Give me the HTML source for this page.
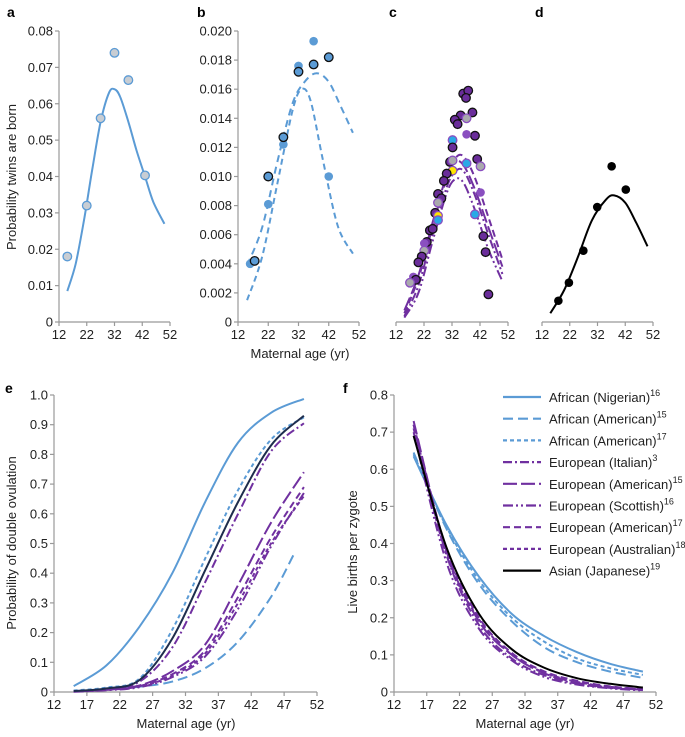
<!DOCTYPE html>
<html><head><meta charset="utf-8">
<style>
html,body{margin:0;padding:0;background:#fff;}
svg{display:block;font-family:"Liberation Sans",sans-serif;}
.tk{font-size:13px;fill:#222;}
.pl{font-size:14px;font-weight:bold;fill:#000;}
.at{font-size:13px;fill:#222;}
</style></head>
<body>
<svg id="chart" width="685" height="737" viewBox="0 0 685 737">
<text class="pl" x="7" y="17">a</text>
<text class="pl" x="197" y="17">b</text>
<text class="pl" x="389" y="17">c</text>
<text class="pl" x="535" y="17">d</text>
<text class="pl" x="5" y="393">e</text>
<text class="pl" x="343" y="393">f</text>
<text class="at" x="300" y="358" text-anchor="middle">Maternal age (yr)</text>
<text class="at" x="186" y="728" text-anchor="middle">Maternal age (yr)</text>
<text class="at" x="525" y="728" text-anchor="middle">Maternal age (yr)</text>
<text class="at" transform="translate(16,177) rotate(-90)" text-anchor="middle">Probability twins are born</text>
<text class="at" transform="translate(16,543) rotate(-90)" text-anchor="middle">Probability of double ovulation</text>
<text class="at" transform="translate(357,552) rotate(-90)" text-anchor="middle">Live births per zygote</text>
</svg>
<script>
// ---------- data ----------
const topXTicks=[12,22,32,42,52];
const bottomXTicks=[12,17,22,27,32,37,42,47,52];
const aYTicks=[0,0.01,0.02,0.03,0.04,0.05,0.06,0.07,0.08];
const aYLabels=["0","0.01","0.02","0.03","0.04","0.05","0.06","0.07","0.08"];
const bYTicks=[0,0.002,0.004,0.006,0.008,0.010,0.012,0.014,0.016,0.018,0.020];
const bYLabels=["0","0.002","0.004","0.006","0.008","0.010","0.012","0.014","0.016","0.018","0.020"];
const eYTicks=[0,0.1,0.2,0.3,0.4,0.5,0.6,0.7,0.8,0.9,1.0];
const eYLabels=["0","0.1","0.2","0.3","0.4","0.5","0.6","0.7","0.8","0.9","1.0"];
const fYTicks=[0,0.1,0.2,0.3,0.4,0.5,0.6,0.7,0.8];
const fYLabels=["0","0.1","0.2","0.3","0.4","0.5","0.6","0.7","0.8"];

const aPointAges=[15,22,27,32,37,43];
const aPointVals=[0.018,0.032,0.056,0.074,0.0665,0.0403];
const aCurveAges=[15,18,21,24,27,30,32,34,37,40,43,46,50];
const aCurveVals=[0.0085,0.016,0.028,0.042,0.055,0.063,0.064,0.062,0.055,0.047,0.040,0.033,0.027];

const bFilledAges=[16,22,27,32,37,42];
const bFilledVals=[0.0040,0.0081,0.0122,0.0176,0.0193,0.0100];
const bOutlinedAges=[17.5,22,27,32,37,42];
const bOutlinedVals=[0.0042,0.0100,0.0127,0.0172,0.0177,0.0182];
const bCurve1Ages=[15,20,25,30,33,36,40,45,50];
const bCurve1Vals=[0.0015,0.0045,0.0095,0.0145,0.0160,0.0152,0.0112,0.0066,0.0047];
const bCurve2Ages=[15,20,25,30,34,38,42,46,50];
const bCurve2Vals=[0.0039,0.0065,0.0110,0.0150,0.0165,0.0171,0.0165,0.0148,0.0130];

const cPointAges=[36.0,37.8,37.0,39.3,35.1,33.0,34.0,40.2,37.2,32.2,32.2,37.2,41.0,42.2,37.2,31.3,32.2,32.2,30.1,29.1,42.2,27.0,28.2,27.0,26.0,27.0,27.0,40.2,24.1,25.1,43.2,23.0,22.1,22.1,44.0,21.2,20.0,18.2,19.1,17.0,45.0];
const cPointVals=[0.0157,0.0159,0.0154,0.0144,0.0142,0.0139,0.0136,0.0128,0.0129,0.0125,0.0120,0.0140,0.0112,0.0107,0.0109,0.0110,0.0111,0.0104,0.0102,0.0097,0.0089,0.0088,0.0085,0.0082,0.0075,0.0073,0.0070,0.0074,0.0063,0.0064,0.0059,0.0055,0.0054,0.0049,0.0048,0.0045,0.0041,0.0031,0.0029,0.0027,0.0019];
const cPointKinds=["d","d","d","d","d","d","d","d","l","b","d","g","d","g","b","d","g","y","d","d","l","d","d","g","d","y","b","b","d","d","d","d","l","g","d","d","d","l","d","g","d"];
const cCurveAges=[15,20,25,30,33,36,40,45,50];
const cCurve1Vals=[0.0006,0.0030,0.0065,0.0098,0.0112,0.0114,0.0100,0.0072,0.0043];
const cCurve2Vals=[0.0004,0.0025,0.0060,0.0092,0.0103,0.0104,0.0088,0.0060,0.0033];
const cCurve3Vals=[0.0003,0.0020,0.0055,0.0088,0.0098,0.0096,0.0078,0.0050,0.0028];
const cCurve4Vals=[0.0008,0.0032,0.0068,0.0100,0.0110,0.0108,0.0092,0.0065,0.0038];

const dPointAges=[17.9,21.7,26.9,31.9,37.1,42.2];
const dPointVals=[0.00146,0.0027,0.0049,0.0079,0.0107,0.0091];
const dCurveAges=[15,20,25,30,35,38,42,46,50];
const dCurveVals=[0.0006,0.0022,0.0045,0.0070,0.0084,0.0087,0.0082,0.0068,0.0052];

const seriesNames=["African (Nigerian)","African (American)","African (American)","European (Italian)","European (American)","European (Scottish)","European (American)","European (Australian)","Asian (Japanese)"];
const seriesRefs=["16","15","17","3","15","16","17","18","19"];
const ages=[15,20,25,30,35,40,45,50];
const eAfrAm15Ages=[15,20,25,30,35,40,45,48.4];
const eVals=[
 [0.02,0.09,0.22,0.40,0.64,0.84,0.94,0.987],
 [0.003,0.008,0.018,0.035,0.08,0.17,0.32,0.46],
 [0.005,0.015,0.045,0.21,0.45,0.68,0.85,0.925],
 [0.002,0.01,0.035,0.15,0.37,0.60,0.81,0.905],
 [0.002,0.008,0.022,0.07,0.16,0.36,0.57,0.74],
 [0.001,0.006,0.016,0.05,0.12,0.28,0.49,0.67],
 [0.002,0.007,0.02,0.06,0.14,0.32,0.52,0.69],
 [0.002,0.007,0.019,0.055,0.13,0.30,0.50,0.66],
 [0.003,0.012,0.04,0.18,0.41,0.64,0.83,0.93]];
const fVals=[
 [0.635,0.45,0.31,0.21,0.15,0.107,0.076,0.055],
 [0.645,0.44,0.29,0.19,0.12,0.08,0.055,0.038],
 [0.64,0.445,0.30,0.20,0.135,0.09,0.064,0.046],
 [0.72,0.37,0.18,0.09,0.045,0.022,0.011,0.005],
 [0.73,0.38,0.19,0.10,0.05,0.025,0.012,0.006],
 [0.70,0.35,0.17,0.085,0.04,0.02,0.01,0.004],
 [0.72,0.385,0.20,0.105,0.055,0.03,0.015,0.008],
 [0.71,0.37,0.195,0.10,0.052,0.027,0.014,0.007],
 [0.69,0.39,0.21,0.115,0.065,0.037,0.022,0.012]];

// ---------- styles ----------
const BLUE="#5b9bd5", PURPLE="#7030a0";
const sColor=[BLUE,BLUE,BLUE,PURPLE,PURPLE,PURPLE,PURPLE,PURPLE,"#000"];
const sDash=["","10,5","4,3","9,3,2,3","14,4","10,3,2,3,2,3","7,4","4,3",""];

const NS="http://www.w3.org/2000/svg";
const svg=document.getElementById('chart');
function mk(tag,attrs,parent){const e=document.createElementNS(NS,tag);for(const k in attrs)e.setAttribute(k,attrs[k]);(parent||svg).appendChild(e);return e;}
function lin(d0,d1,r0,r1){return v=>r0+(v-d0)*(r1-r0)/(d1-d0);}
function smooth(xs,ys){
  let d="M"+xs[0].toFixed(1)+","+ys[0].toFixed(1);
  for(let i=0;i<xs.length-1;i++){
    const x0=xs[Math.max(0,i-1)],y0=ys[Math.max(0,i-1)],x1=xs[i],y1=ys[i],x2=xs[i+1],y2=ys[i+1],x3=xs[Math.min(xs.length-1,i+2)],y3=ys[Math.min(xs.length-1,i+2)];
    d+=" C"+(x1+(x2-x0)/6).toFixed(1)+","+(y1+(y2-y0)/6).toFixed(1)+" "+(x2-(x3-x1)/6).toFixed(1)+","+(y2-(y3-y1)/6).toFixed(1)+" "+x2.toFixed(1)+","+y2.toFixed(1);
  }
  return d;
}
function axes(px,sx,sy,xt,yt,yl,xy0,showY,pname){
  const g=mk('g',{});
  
  
  const x0=sx(xt[0]),x1=sx(xt[xt.length-1]);
  const xl=mk('line',{x1:x0,x2:x1,y1:xy0,y2:xy0,stroke:'#999','stroke-width':1.2},g);
  
  
  xt.forEach(t=>{
    mk('line',{x1:sx(t),x2:sx(t),y1:xy0,y2:xy0+4,stroke:'#999','stroke-width':1.2},g);
    const tx=mk('text',{x:sx(t),y:xy0+17,'text-anchor':'middle','class':'tk'},g);
    tx.textContent=t;
    
    
  });
  if(showY){
    const yl0=mk('line',{x1:x0,x2:x0,y1:sy(yt[0]),y2:sy(yt[yt.length-1]),stroke:'#999','stroke-width':1.2},g);
    
    
    yt.forEach((t,i)=>{
      mk('line',{x1:x0-4,x2:x0,y1:sy(t),y2:sy(t),stroke:'#999','stroke-width':1.2},g);
      const tx=mk('text',{x:x0-6,y:sy(t)+4.5,'text-anchor':'end','class':'tk'},g);
      tx.textContent=yl[i];
      
      
    });
  }
}
function curve(sx,sy,xs,vs,color,dash,w,name){
  const p=mk('path',{d:smooth(xs.map(sx),vs.map(sy)),fill:'none',stroke:color,'stroke-width':w||2,'stroke-dasharray':dash||'none','stroke-linecap':'butt'});
  
  
  return p;
}
function dot(x,y,fill,stroke,name){
  const c=mk('circle',{cx:x,cy:y,r:4.3,fill:fill,stroke:stroke||'none','stroke-width':stroke?1.3:0});
  
  
}

// ---------- panel a ----------
const ax=lin(12,52,59,170), ay=lin(0,0.08,322,31);
axes('a',ax,ay,topXTicks,aYTicks,aYLabels,322,true,'panel-a');
curve(ax,ay,aCurveAges,aCurveVals,BLUE,'',2,'a-fit-curve');
aPointAges.forEach((a,i)=>dot(ax(a),ay(aPointVals[i]),'#c8cdd3',BLUE,'a-data-point'));

// ---------- panel b ----------
const bx=lin(12,52,238,359), by=lin(0,0.020,322,31);
axes('b',bx,by,topXTicks,bYTicks,bYLabels,322,true,'panel-b');
curve(bx,by,bCurve1Ages,bCurve1Vals,BLUE,'6,4',2,'b-fit-curve-1');
curve(bx,by,bCurve2Ages,bCurve2Vals,BLUE,'7,5',2,'b-fit-curve-2');
bFilledAges.forEach((a,i)=>dot(bx(a),by(bFilledVals[i]),BLUE,null,'b-filled-point'));
bOutlinedAges.forEach((a,i)=>dot(bx(a),by(bOutlinedVals[i]),BLUE,'#111','b-outlined-point'));

// ---------- panel c ----------
const cx=lin(12,52,396,508), cy=lin(0,0.020,322,31);
axes('c',cx,cy,topXTicks,[],[],322,false,'panel-c');
curve(cx,cy,cCurveAges,cCurve1Vals,PURPLE,'7,4',2,'c-fit-curve-1');
curve(cx,cy,cCurveAges,cCurve2Vals,PURPLE,'9,3,2,3',2,'c-fit-curve-2');
curve(cx,cy,cCurveAges,cCurve3Vals,PURPLE,'10,3,2,3,2,3',2,'c-fit-curve-3');
curve(cx,cy,cCurveAges,cCurve4Vals,PURPLE,'14,4',2,'c-fit-curve-4');
const kindFill={d:"#6a2d9a",l:"#8a4fc0",g:"#a9a9ad",b:"#2aa9e6",y:"#ffe600"};
const kindStroke={d:"#111",l:null,g:"#8a4fc0",b:"#8a4fc0",y:"#8a4fc0"};
cPointAges.forEach((a,i)=>dot(cx(a),cy(cPointVals[i]),kindFill[cPointKinds[i]],kindStroke[cPointKinds[i]],'c-data-point'));

// ---------- panel d ----------
const dx=lin(12,52,542,653), dy=lin(0,0.020,322,31);
axes('d',dx,dy,topXTicks,[],[],322,false,'panel-d');
curve(dx,dy,dCurveAges,dCurveVals,'#000','',2,'d-fit-curve');
dPointAges.forEach((a,i)=>dot(dx(a),dy(dPointVals[i]),'#000',null,'d-data-point'));

// ---------- panel e ----------
const ex=lin(12,52,54,317), ey=lin(0,1.0,692,395);
axes('e',ex,ey,bottomXTicks,eYTicks,eYLabels,692,true,'panel-e');
eVals.forEach((vs,i)=>{
  const xs=(i===1)?eAfrAm15Ages:ages;
  curve(ex,ey,xs,vs,i===8?'#1e2d4d':sColor[i],sDash[i],2,'e-curve-'+i);
});

// ---------- panel f ----------
const fx=lin(12,52,394,656), fy=lin(0,0.8,692,395);
axes('f',fx,fy,bottomXTicks,fYTicks,fYLabels,692,true,'panel-f');
fVals.forEach((vs,i)=>{curve(fx,fy,ages,vs,sColor[i],sDash[i],2,'f-curve-'+i);});

// ---------- legend ----------
const lg=mk('g',{});


seriesNames.forEach((n,i)=>{
  const y=397+i*21.7;
  const ln=mk('line',{x1:503,x2:541,y1:y,y2:y,stroke:sColor[i],'stroke-width':2.2,'stroke-dasharray':sDash[i]||'none'},lg);
  
  
  const t=mk('text',{x:549,y:y+5,'class':'tk'},lg);
  
  
  t.textContent=n;
  const s=mk('tspan',{dy:-6,'font-size':9},t);
  s.textContent=seriesRefs[i];
});
</script>
</body></html>
